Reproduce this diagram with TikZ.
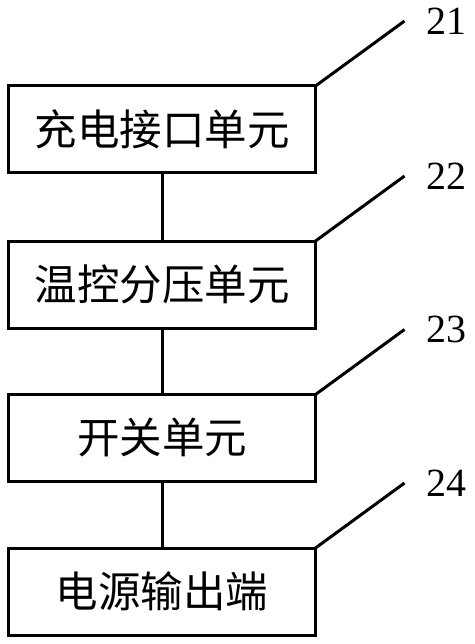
\documentclass[tikz,border=0pt]{standalone}
\usepackage{fontspec}
\setmainfont{Liberation Serif}
\newfontfamily\cjk{Noto Sans CJK SC}
\tikzset{
    unit/.style={draw,line width=3pt,minimum width=307pt,minimum height=87pt,outer sep=0pt,inner sep=0pt,font=\cjk\fontsize{42.5}{42.5}\selectfont},
    lead/.style={line width=3pt},
    num/.style={anchor=west,inner sep=0pt,font=\fontsize{40}{40}\selectfont}
}
\begin{document}
\begin{tikzpicture}[x=1pt,y=-1pt]
        \useasboundingbox (0,0) rectangle (474,644);
        \node[unit] (B1) at (162,129.5) {充电接口单元};
        \node[unit] (B2) at (162,284.5) {温控分压单元};
        \node[unit] (B3) at (162,438) {开关单元};
        \node[unit] (B4) at (162,591.5) {电源输出端};
        \draw[lead] (B1.south) -- (B2.north);
        \draw[lead] (B2.south) -- (B3.north);
        \draw[lead] (B3.south) -- (B4.north);
        \foreach \i/\n in {1/21,2/22,3/23,4/24} {
            \draw[lead] (B\i.north east) -- ++(89,-65) coordinate (T\i);
            \node[num] (N\i) at ([xshift=22pt]T\i) {\n};
        }
    \end{tikzpicture}
\end{document}
